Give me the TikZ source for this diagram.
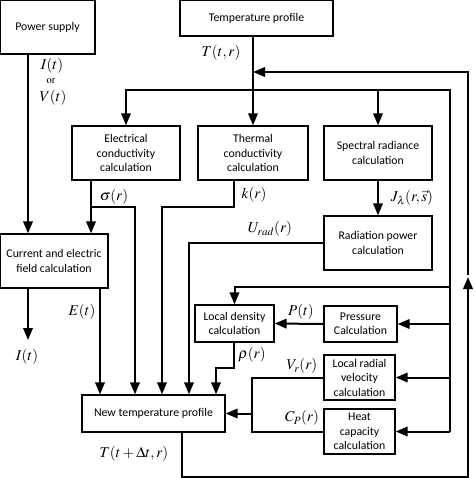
\documentclass[tikz,border=0pt]{standalone}
\usepackage{mathptmx}
\usepackage{fontspec}
\setmainfont{Carlito}
\usetikzlibrary{arrows.meta}
\begin{document}
\begin{tikzpicture}[x=1pt,y=-1pt,
  box/.style={draw,line width=1.3pt,align=center,inner sep=0pt,
    font=\fontsize{11.8}{14.5}\selectfont},
  conn/.style={line width=2pt},
  arr/.style={line width=2pt,-{Triangle[length=12pt,width=9.5pt]}},
  lab/.style={inner sep=0pt,font=\fontsize{15}{16}\selectfont}]
\useasboundingbox (0,0) rectangle (474,478);
% boxes
\node[box,minimum width=95pt,minimum height=54pt] (ps) at (47.5,27) {Power supply};
\node[box,minimum width=153pt,minimum height=36pt] (tp) at (256.5,18) {Temperature profile};
\node[box,minimum width=108pt,minimum height=54pt] (ec) at (126,153) {Electrical\\conductivity\\calculation};
\node[box,minimum width=110pt,minimum height=54pt] (thc) at (253,153) {Thermal\\conductivity\\calculation};
\node[box,minimum width=108pt,minimum height=54pt] (sr) at (378,153) {Spectral radiance\\calculation};
\node[box,minimum width=108pt,minimum height=54pt] (rp) at (378,243) {Radiation power\\calculation};
\node[box,minimum width=108pt,minimum height=54pt] (cef) at (54,261) {Current and electric\\field calculation};
\node[box,minimum width=143pt,minimum height=37pt] (ntp) at (153.5,413.5) {New temperature profile};
\node[box,minimum width=79pt,minimum height=37pt] (ld) at (234.5,323.5) {Local density\\calculation};
\node[box,minimum width=73pt,minimum height=36pt] (pc) at (360.5,324) {Pressure\\Calculation};
\node[box,minimum width=71pt,minimum height=45pt] (lrv) at (359.5,377.5) {Local radial\\velocity\\calculation};
\node[box,minimum width=71pt,minimum height=45pt] (hc) at (359.5,431.5) {Heat\\capacity\\calculation};
% helper coordinates
\coordinate (xps) at (28,0);
\coordinate (xsig) at (91,0);
\coordinate (ysig) at (0,207);
\coordinate (xs2) at (135,0);
\coordinate (xk) at (234,0);
\coordinate (xk2) at (162,0);
\coordinate (xe) at (100,0);
\coordinate (xu) at (189,0);
\coordinate (ydist) at (0,90);
\coordinate (xr) at (450,0);
\coordinate (yld) at (0,287);
\coordinate (yrho) at (0,368);
\coordinate (xrho) at (216,0);
\coordinate (xv) at (252,0);
\coordinate (yfb) at (0,72);
\coordinate (xfb) at (468,0);
\coordinate (ybot) at (0,477);
\coordinate (xnt) at (182,0);
\coordinate (yup) at (0,277);
\coordinate (iout) at (28,340);
% labels
\node[lab] (li) at (52,66) {$I(t)$};
\node[lab,font=\fontsize{10.5}{11}\selectfont] (lor) at (51,81) {$\mathrm{or}$};
\node[lab] (lv) at (53,98) {$V(t)$};
\node[lab] (lt) at (221,53) {$T(t,r)$};
\node[lab] (lsig) at (114,197) {$\sigma(r)$};
\node[lab] (lk) at (254,195) {$k(r)$};
\node[lab] (lj) at (412,198) {$J_{\lambda}(r,\vec{s})$};
\node[lab] (lu) at (270,229) {$U_{rad}(r)$};
\node[lab] (le) at (82,312) {$E(t)$};
\node[lab] (liout) at (27,357) {$I(t)$};
\node[lab] (lp) at (301,312) {$P(t)$};
\node[lab] (lrho) at (252,355) {$\rho(r)$};
\node[lab] (lvr) at (302,366) {$V_r(r)$};
\node[lab] (lcp) at (302,418) {$C_P(r)$};
\node[lab] (ltn) at (134,454) {$T(t+\Delta t,r)$};
% connectors
\draw[arr] (ps.south -| xps) -- (cef.north -| xps);
\draw[arr] (cef.south -| xps) -- (iout);
\draw[arr] (ec.south -| xsig) -- (cef.north -| xsig);
\draw[arr] (xsig |- ysig) -- (xs2 |- ysig) -- (ntp.north -| xs2);
\draw[arr] (thc.south -| xk) -- (xk |- ysig) -- (xk2 |- ysig) -- (ntp.north -| xk2);
\draw[arr] (cef.south -| xe) -- (ntp.north -| xe);
\draw[arr] (rp.west) -- (rp.west -| xu) -- (ntp.north -| xu);
\draw[arr] (sr.south) -- (rp.north);
\draw[arr] (tp.south -| thc.north) -- (thc.north);
\draw[arr] (xr |- hc.east) -- (xr |- ydist) -- (ec.north |- ydist) -- (ec.north);
\draw[arr] (sr.north |- ydist) -- (sr.north);
\draw[arr] (xr |- yld) -- (ld.north |- yld) -- (ld.north);
\draw[arr] (xr |- pc.east) -- (pc.east);
\draw[arr] (xr |- lrv.east) -- (lrv.east);
\draw[arr] (xr |- hc.east) -- (hc.east);
\draw[arr] (ntp.south -| xnt) -- (xnt |- ybot) -- (xfb |- ybot) -- (xfb |- yup);
\draw[arr] ([yshift=2pt]xfb |- yup) -- (xfb |- yfb) -- (thc.north |- yfb);
\draw[arr] (ld.south -| xk) -- (xk |- yrho) -- (xrho |- yrho) -- (ntp.north -| xrho);
\draw[arr] (pc.west) -- (ld.east);
\draw[conn] (lrv.west) -- (lrv.west -| xv) -- (hc.west -| xv) -- (hc.west);
\draw[arr] (xv |- ntp.east) -- (ntp.east);
\end{tikzpicture}
\end{document}
